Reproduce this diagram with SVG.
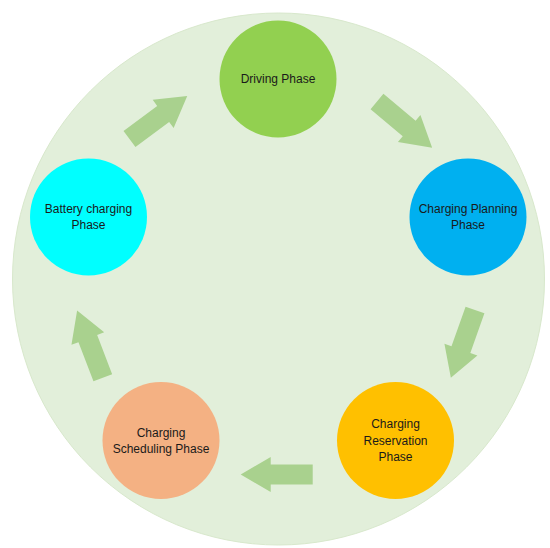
<svg xmlns="http://www.w3.org/2000/svg" width="550" height="548" viewBox="0 0 550 548">
<defs>
<style>
.node text{font-family:"Liberation Sans",Arial,sans-serif;font-size:12px;fill:#1a1a1a;text-anchor:middle}
.arrow{fill:#A9D18E}
</style>
<polygon id="arr" points="0,-10 42,-10 42,-17.5 72,0 42,17.5 42,10 0,10"/>
</defs>
<rect width="550" height="548" fill="#ffffff"/>
<circle cx="278.5" cy="279" r="266" fill="#E2EFDA" stroke="#d8e8cc" stroke-width="1"/>
<g id="connectors" class="arrow">
<use href="#arr" transform="translate(377,101.5) rotate(40)"/>
<use href="#arr" transform="translate(475,310) rotate(109.6)"/>
<use href="#arr" transform="translate(312.7,474.5) rotate(180)"/>
<use href="#arr" transform="translate(102.8,377.8) rotate(-110.9)"/>
<use href="#arr" transform="translate(129.5,139) rotate(-36.7)"/>
</g>
<g id="driving" class="node">
<circle cx="278" cy="79" r="58.5" fill="#92D050"/>
<text x="278" y="83">Driving Phase</text>
</g>
<g id="planning" class="node">
<circle cx="468" cy="217" r="58.5" fill="#00B0F0"/>
<text x="468" y="213">Charging Planning</text>
<text x="468" y="229">Phase</text>
</g>
<g id="reservation" class="node">
<circle cx="395.5" cy="440.5" r="58.5" fill="#FFC000"/>
<text x="395.5" y="428">Charging</text>
<text x="395.5" y="444.5">Reservation</text>
<text x="395.5" y="461">Phase</text>
</g>
<g id="scheduling" class="node">
<circle cx="161" cy="440.5" r="58.5" fill="#F4B183"/>
<text x="161" y="436.5">Charging</text>
<text x="161" y="453">Scheduling Phase</text>
</g>
<g id="battery" class="node">
<circle cx="88.5" cy="217" r="58.5" fill="#00FFFF"/>
<text x="88.5" y="213">Battery charging</text>
<text x="88.5" y="229">Phase</text>
</g>
</svg>
